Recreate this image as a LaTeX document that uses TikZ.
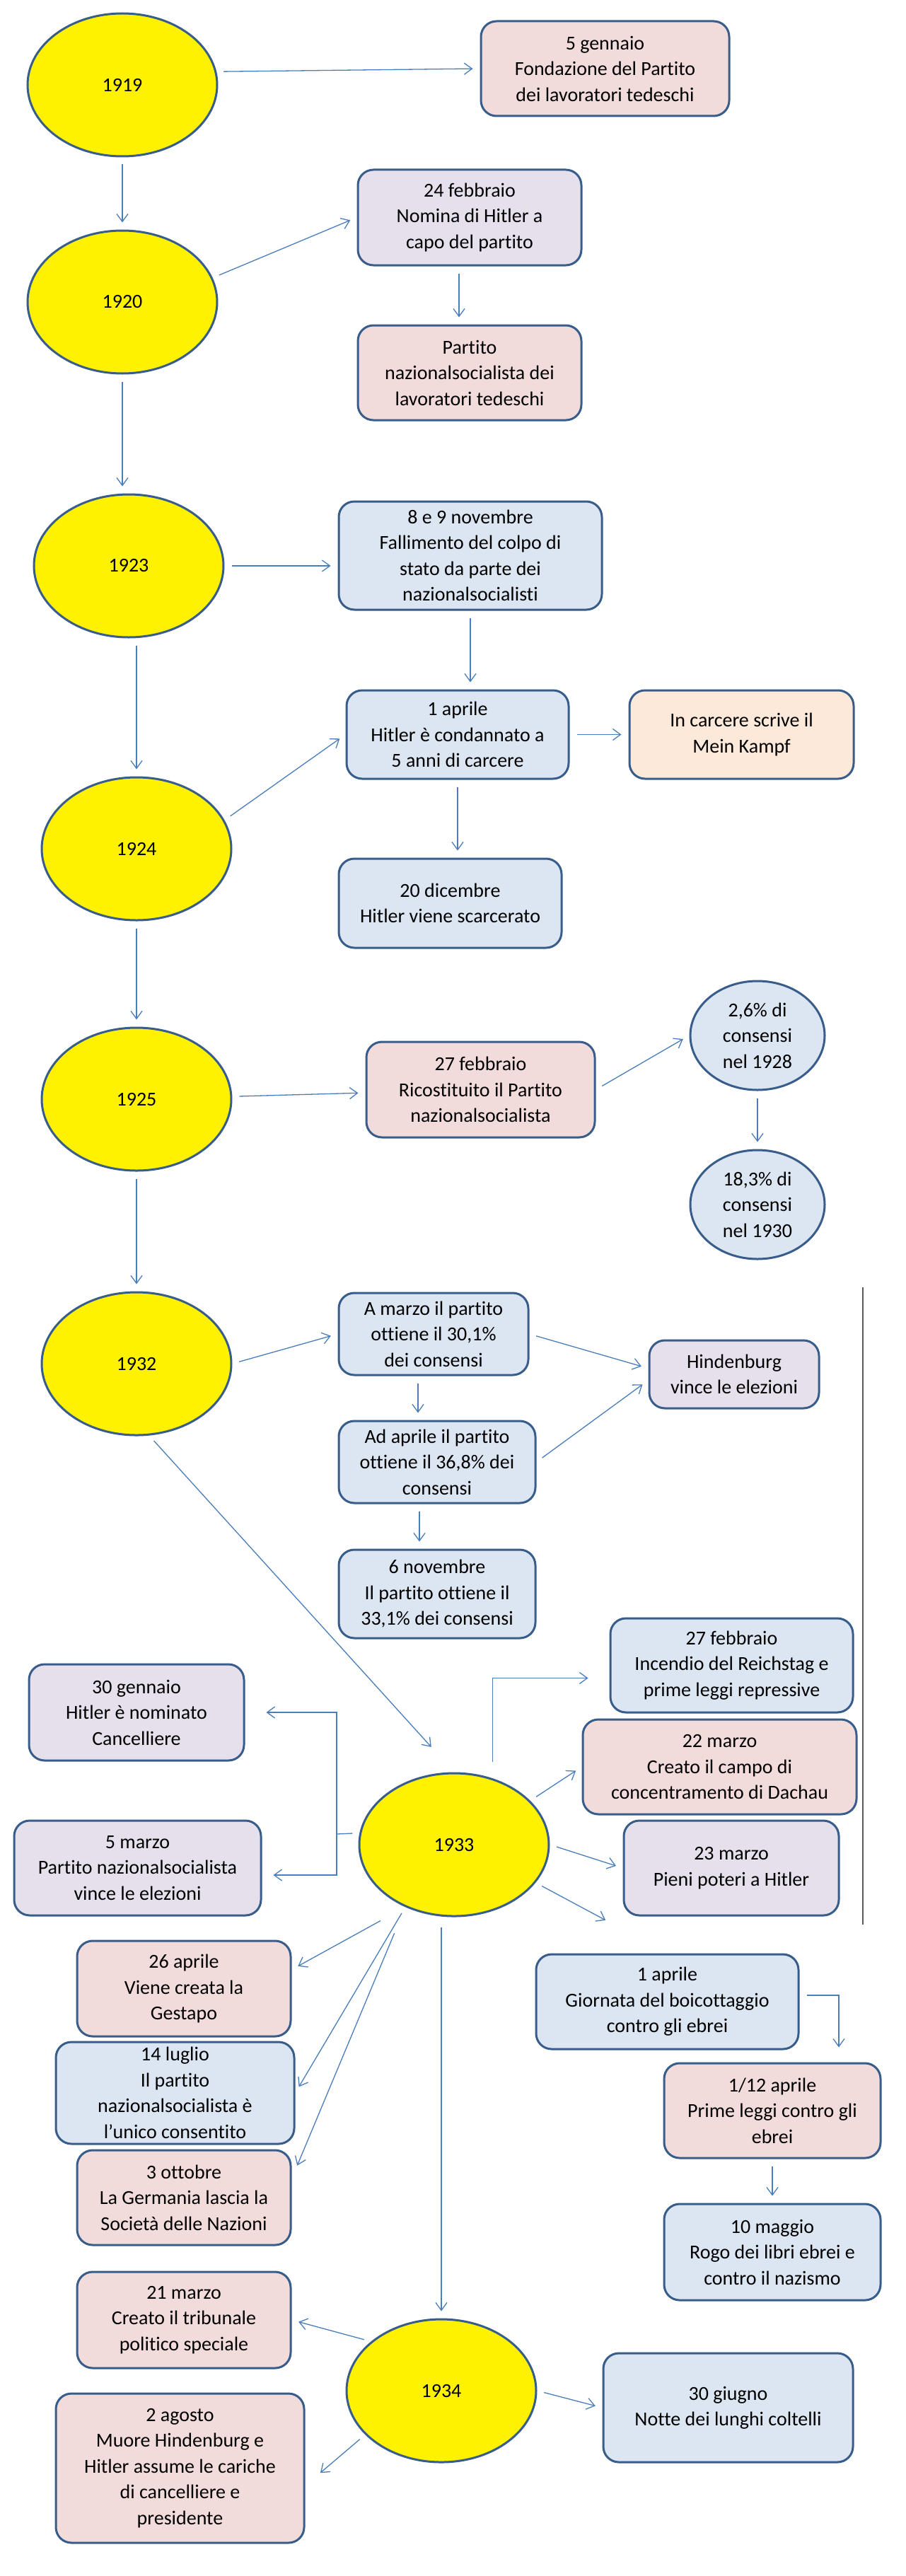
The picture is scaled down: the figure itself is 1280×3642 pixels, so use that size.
\documentclass[tikz,border=0pt]{standalone}
\usepackage{fontspec}
\setmainfont{Carlito}[Ligatures=NoCommon]
\usepackage{tikz}
\usetikzlibrary{arrows.meta,positioning,calc,shapes.geometric}

\definecolor{bordc}{HTML}{385D8A}
\definecolor{linkc}{HTML}{4A7EBB}
\definecolor{pinkc}{HTML}{F2DCDB}
\definecolor{bluec}{HTML}{DCE6F2}
\definecolor{lilac}{HTML}{E6E0EC}
\definecolor{peach}{HTML}{FDE9D9}
\newcommand{\evfont}{\fontsize{28}{36.5}\selectfont}

\begin{document}
\begin{tikzpicture}[x=1pt,y=-1pt,>={Straight Barb[length=11pt,width=16pt]},
  year/.style={ellipse,draw=bordc,fill=yellow,line width=3pt,inner sep=0pt,
    minimum width=268pt,minimum height=202pt,font=\evfont},
  evt/.style={rectangle,rounded corners=22pt,draw=bordc,line width=3pt,
    align=center,font=\evfont,inner sep=2pt},
  pct/.style={ellipse,draw=bordc,fill=bluec,line width=3pt,align=center,
    font=\evfont,inner sep=0pt,minimum width=190pt,minimum height=154pt},
  link/.style={->,draw=linkc,line width=1.3pt,shorten >=10pt,shorten <=10pt}]
  \useasboundingbox (0,0) rectangle (1280,3642);
  \fill[white] (0,0) rectangle (1280,3642);

  % years
  \node[year] (y1919) at (173,120)  {1919};
  \node[year] (y1920) at (173,427)  {1920};
  \node[year] (y1923) at (182,800)  {1923};
  \node[year] (y1924) at (193,1200) {1924};
  \node[year] (y1925) at (193,1554) {1925};
  \node[year] (y1932) at (193,1928) {1932};
  \node[year] (y1933) at (642,2608) {1933};
  \node[year] (y1934) at (624,3380) {1934};

  % 1919 - 1925
  \node[evt,fill=pinkc,minimum width=351pt,minimum height=134pt] (jan5) at (855.5,97)
    {5 gennaio\\Fondazione del Partito\\dei lavoratori tedeschi};
  \node[evt,fill=lilac,minimum width=316pt,minimum height=135pt] (feb24) at (664,307.5)
    {24 febbraio\\Nomina di Hitler a\\capo del partito};
  \node[evt,fill=pinkc,minimum width=316pt,minimum height=134pt] (npdl) at (664,527)
    {Partito\\nazionalsocialista dei\\lavoratori tedeschi};
  \node[evt,fill=bluec,minimum width=372pt,minimum height=153pt] (nov89) at (665,785.5)
    {8 e 9 novembre\\Fallimento del colpo di\\stato da parte dei\\nazionalsocialisti};
  \node[evt,fill=bluec,minimum width=314pt,minimum height=125pt] (apr1) at (647,1038.5)
    {1 aprile\\Hitler è condannato a\\5 anni di carcere};
  \node[evt,fill=peach,minimum width=317pt,minimum height=125pt] (kampf) at (1048.5,1038.5)
    {In carcere scrive il\\Mein Kampf};
  \node[evt,fill=bluec,minimum width=315pt,minimum height=126pt] (dec20) at (636.5,1277)
    {20 dicembre\\Hitler viene scarcerato};
  \node[evt,fill=pinkc,minimum width=323pt,minimum height=135pt] (feb27) at (679.5,1540.5)
    {27 febbraio\\Ricostituito il Partito\\nazionalsocialista};
  \node[pct] (pct26)  at (1071,1464) {2,6\% di\\consensi\\nel 1928};
  \node[pct] (pct183) at (1071,1703) {18,3\% di\\consensi\\nel 1930};

  % 1932
  \node[evt,fill=bluec,minimum width=268pt,minimum height=116pt] (mar32) at (613,1886)
    {A marzo il partito\\ottiene il 30,1\%\\dei consensi};
  \node[evt,fill=lilac,minimum width=240pt,minimum height=96pt] (hind) at (1038,1943)
    {Hindenburg\\vince le elezioni};
  \node[evt,fill=bluec,minimum width=278pt,minimum height=116pt] (apr32) at (618,2067)
    {Ad aprile il partito\\ottiene il 36,8\% dei\\consensi};
  \node[evt,fill=bluec,minimum width=278pt,minimum height=125pt] (nov6) at (618,2253.5)
    {6 novembre\\Il partito ottiene il\\33,1\% dei consensi};

  % 1933
  \node[evt,fill=bluec,minimum width=343pt,minimum height=133pt] (reich) at (1034.5,2354.5)
    {27 febbraio\\Incendio del Reichstag e\\prime leggi repressive};
  \node[evt,fill=pinkc,minimum width=387pt,minimum height=134pt] (dachau) at (1017.5,2498)
    {22 marzo\\Creato il campo di\\concentramento di Dachau};
  \node[evt,fill=lilac,minimum width=304pt,minimum height=134pt] (pieni) at (1034,2641)
    {23 marzo\\Pieni poteri a Hitler};
  \node[evt,fill=lilac,minimum width=304pt,minimum height=136pt] (jan30) at (193,2421)
    {30 gennaio\\Hitler è nominato\\Cancelliere};
  \node[evt,fill=lilac,minimum width=349pt,minimum height=134pt] (mar5) at (194.5,2641)
    {5 marzo\\Partito nazionalsocialista\\vince le elezioni};
  \node[evt,fill=bluec,minimum width=371pt,minimum height=134pt] (boic) at (943.5,2830)
    {1 aprile\\Giornata del boicottaggio\\contro gli ebrei};
  \node[evt,fill=pinkc,minimum width=306pt,minimum height=134pt] (leggi) at (1092,2984)
    {1/12 aprile\\Prime leggi contro gli\\ebrei};
  \node[evt,fill=bluec,minimum width=306pt,minimum height=136pt] (rogo) at (1092,3184)
    {10 maggio\\Rogo dei libri ebrei e\\contro il nazismo};
  \node[evt,fill=pinkc,minimum width=302pt,minimum height=135pt] (gest) at (260,2811.5)
    {26 aprile\\Viene creata la\\Gestapo};
  \node[evt,fill=bluec,minimum width=337pt,minimum height=144pt] (lugl) at (247.5,2959)
    {14 luglio\\Il partito\\nazionalsocialista è\\l’unico consentito};
  \node[evt,fill=pinkc,minimum width=302pt,minimum height=134pt] (ott3) at (260,3107)
    {3 ottobre\\La Germania lascia la\\Società delle Nazioni};

  % 1934
  \node[evt,fill=pinkc,minimum width=302pt,minimum height=136pt] (trib) at (260,3280)
    {21 marzo\\Creato il tribunale\\politico speciale};
  \node[evt,fill=pinkc,minimum width=351pt,minimum height=211pt] (ago2) at (254.5,3489.5)
    {2 agosto\\Muore Hindenburg e\\Hitler assume le cariche\\di cancelliere e\\presidente};
  \node[evt,fill=bluec,minimum width=353pt,minimum height=154pt] (giu30) at (1029.5,3404)
    {30 giugno\\Notte dei lunghi coltelli};

  \foreach \u/\v in {y1919/y1920,y1919.8/jan5.west,y1920.15/feb24.west,
      apr1/kampf,y1924.18/apr1.west,y1924/y1925,y1925/feb27,
      feb27.east/pct26.west,pct26/pct183,y1925/y1932,y1932.east/mar32.west,
      mar32.east/hind.176,apr32.east/hind.184,y1933.30/dachau.west,
      y1933.east/pieni.west,y1933.232/lugl.east,leggi/rogo,
      y1934.145/trib.east,y1934.east/giu30.west}
    \draw[link] (\u)--(\v);

  \draw[link] ([xshift=-15pt]feb24.south) -- ([xshift=-15pt]npdl.north);
  \draw[link] (y1920) -- (y1920 |- y1923.north);
  \draw[link] (y1923.east) -- (y1923.east -| nov89.west);
  \draw[link] (nov89.south) -- (nov89.south |- apr1.north);
  \draw[link] (y1924.north |- y1923.south) -- (y1924.north);
  \draw[link] (apr1.south) -- (apr1.south |- dec20.north);
  \draw[link] ([xshift=-22pt]mar32.south) -- ([xshift=-27pt]apr32.north);
  \draw[link] ([xshift=-25pt]apr32.south) -- ([xshift=-25pt]nov6.north);
  \draw[link,shorten >=48pt] (y1932.280) -- (y1933.north);

  % 1933 branches
  \draw[link,shorten <=23pt,shorten >=30pt] (y1933.60) |- ([yshift=-18pt]reich.west);
  \draw[link,shorten >=99pt] (y1933.335) -- (boic.north);
  \coordinate (fork) at (476,2593);
  \draw[link,-,shorten >=0pt] (y1933.173) -- (fork);
  \draw[link,shorten <=0pt,shorten >=30pt] (fork) |- (jan30.east);
  \draw[link,shorten <=0pt,shorten >=16pt] (fork) |- ([yshift=-10pt]mar5.east);
  \draw[link,shorten <=40pt] (y1933.232) -- (gest.10);
  \draw[link,shorten <=40pt,shorten >=20pt] (y1933.232) -- (ott3.10);
  \draw[link,shorten <=14pt] (y1934.north |- y1933.south) -- (y1934.north);
  \draw[link,shorten >=21pt] ([yshift=9pt]boic.east) -| ([xshift=94pt]leggi.north);
  \draw[link,shorten >=28pt] (y1934.210) -- (ago2.352);

  % loose rule on the right
  \draw[line width=1.5pt,black!65] (1220,1820) -- (1220,2721);
\end{tikzpicture}
\end{document}
